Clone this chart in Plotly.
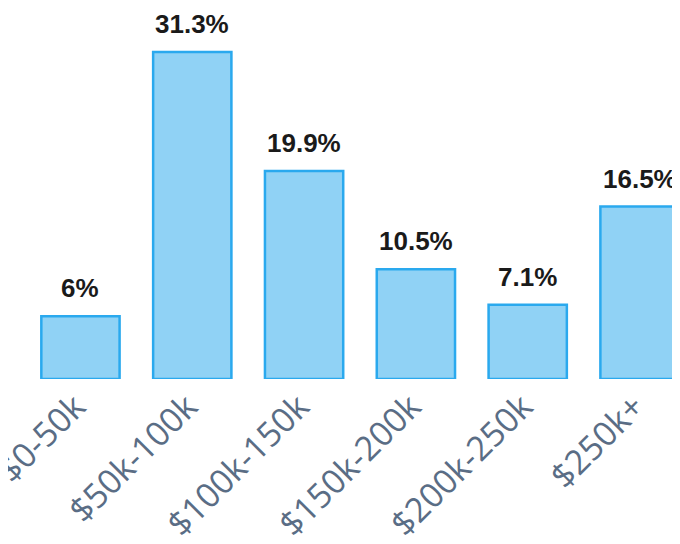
import plotly.graph_objects as go

categories = ["$0-50k", "$50k-100k", "$100k-150k", "$150k-200k", "$200k-250k", "$250k+"]
values = [6, 31.3, 19.9, 10.5, 7.1, 16.5]
labels = ["6%", "31.3%", "19.9%", "10.5%", "7.1%", "16.5%"]

fig = go.Figure()
fig.add_trace(go.Bar(
    x=categories, y=values,
    marker=dict(color="#90d2f5", line=dict(color="#2aa9ee", width=2.5)),
    width=0.7,
    hoverinfo="skip",
))
for c, v, t in zip(categories, values, labels):
    fig.add_annotation(x=c, y=v, text=t, showarrow=False, yanchor="bottom", yshift=11,
                       font=dict(family="Liberation Sans", size=26, color="#1a1a1a", weight="bold"))

fig.update_layout(
    width=672, height=528,
    margin=dict(l=17, r=0, t=12, b=157, autoexpand=False),
    paper_bgcolor="white", plot_bgcolor="white",
    showlegend=False,
    xaxis=dict(range=[-0.496, 5.362], tickangle=-45, showline=False, showgrid=False,
               automargin=False, ticks="", ticklabelshift=-5,
               tickfont=dict(family="Open Sans", size=34, color="#5a6d85")),
    yaxis=dict(range=[0, 34.35], visible=False, automargin=False),
)
fig.write_html("out.html")
